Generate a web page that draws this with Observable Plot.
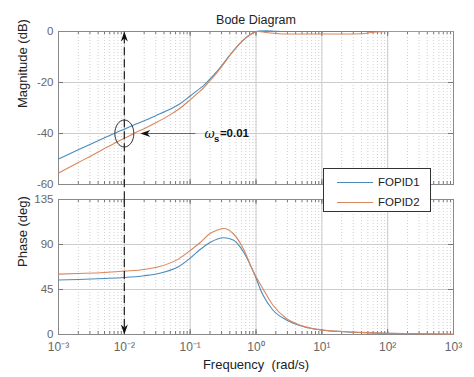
<!DOCTYPE html>
<html><head><meta charset="utf-8">
<script src="https://cdn.jsdelivr.net/npm/d3@7"></script>
<script src="https://cdn.jsdelivr.net/npm/@observablehq/plot@0.6"></script>
<style>
html,body{margin:0;padding:0;background:#fff;}
#wrap{position:relative;width:474px;height:377px;font-family:"Liberation Sans",Arial,sans-serif;}
#wrap svg{position:absolute;left:0;overflow:visible;}
</style></head>
<body><div id="wrap"></div>
<script>
const seriesNames = ["FOPID1", "FOPID2"];
const seriesColors = ["#4a8bbd", "#d9865c"];

const magFreq = [0.001,0.002,0.003,0.005,0.007,0.01,0.015,0.02,0.03,0.05,0.07,0.1,0.13,0.16,0.2,0.25,0.32,0.4,0.5,0.64,0.8,0.91,1.1,1.4,2,3,5,20,40,60,100,1000];
const magFOPID1 = [-50,-46.4,-44.3,-41.7,-40.0,-38.3,-36.3,-35.0,-33.0,-30.4,-28.3,-25.3,-23.0,-21.2,-18.6,-15.9,-12.5,-9.3,-6.3,-3.4,-1.4,-0.5,0.2,0.3,0.1,0,0,0,0,0,0,0];
const magFOPID2 = [-55.5,-51.4,-49.0,-45.9,-43.9,-41.9,-39.6,-38.1,-35.8,-32.6,-30.1,-26.8,-24.2,-22.1,-19.3,-16.4,-12.8,-9.4,-6.3,-3.4,-1.4,-0.5,0.0,-0.4,-0.8,-1.0,-1.0,-1.0,-0.9,-0.3,0,0];

const phFreq = [0.001,0.002,0.005,0.01,0.02,0.033,0.066,0.105,0.142,0.2,0.26,0.32,0.45,0.64,0.91,1.27,1.8,2.9,4.6,7.3,11.5,30,100,300,1000];
const phFOPID1 = [54.5,55,56,57,58.8,61,67.7,77.5,85,92,95.5,96.7,94.5,83,63,39.7,24.5,14.5,9,5.7,4,2.3,1.2,0.6,0.3];
const phFOPID2 = [60.4,61,62,63.4,65,67.7,75.4,85,92,101,104.5,106,101,86,63,46,29.5,16,9.5,5.9,4.1,2.4,1.2,0.6,0.3];

const xTicks = [1e-3,1e-2,1e-1,1,10,100,1000];
const xTickLabels = ["10⁻³","10⁻²","10⁻¹","10⁰","10¹","10²","10³"];
const magTicks = [0,-20,-40,-60];
const phTicks = [0,45,90,135];
const markerFreq = [0.01];
const markerMag = [-40];
const omegaArrow = {from: 0.12, to: 0.0175};

const font = '"Liberation Sans",Arial,sans-serif';
const minorTicks = d3.scaleLog().domain([1e-3,1e3]).ticks(100);
const toRows = (freq, a, b) => freq.flatMap((f,i)=>[{f, v:a[i], s:seriesNames[0]},{f, v:b[i], s:seriesNames[1]}]);
const magRows = toRows(magFreq, magFOPID1, magFOPID2);
const phRows = toRows(phFreq, phFOPID1, phFOPID2);

const headSymbol = {draw(ctx){ ctx.moveTo(0,0); ctx.lineTo(-3.5,10); ctx.lineTo(0,7); ctx.lineTo(3.5,10); ctx.closePath(); }};
const ellipseSymbol = {draw(ctx){ const rx=9.5, ry=13.5, k=0.5523;
  ctx.moveTo(rx,0);
  ctx.bezierCurveTo(rx,ry*k,rx*k,ry,0,ry);
  ctx.bezierCurveTo(-rx*k,ry,-rx,ry*k,-rx,0);
  ctx.bezierCurveTo(-rx,-ry*k,-rx*k,-ry,0,-ry);
  ctx.bezierCurveTo(rx*k,-ry,rx,-ry*k,rx,0); ctx.closePath(); }};

const W = 474, ML = 58, MR = 21;
const plotW = W - ML - MR;

function common(h){ // grid, frame, inner ticks
  return [
    Plot.gridX(minorTicks, {stroke:"#aaa", strokeOpacity:0.55, strokeDasharray:"1,2"}),
    Plot.gridX(xTicks, {stroke:"#ccc", strokeOpacity:1}),
    Plot.tickX(minorTicks, {x:d=>d, insetTop:h-3, stroke:"#777"}),
    Plot.tickX(minorTicks, {x:d=>d, insetBottom:h-3, stroke:"#777"}),
    Plot.tickX(xTicks, {x:d=>d, insetTop:h-5, stroke:"#777"}),
    Plot.tickX(xTicks, {x:d=>d, insetBottom:h-5, stroke:"#777"}),
  ];
}

const magH = 153;
const p1 = Plot.plot({
  width:W, height:190, marginTop:31, marginBottom:6, marginLeft:ML, marginRight:MR,
  style:{fontFamily:font, fontSize:"11.5px", color:"#666", background:"transparent", overflow:"visible"},
  x:{type:"log", domain:[1e-3,1e3], axis:null},
  y:{domain:[-60,0], axis:null},
  color:{domain:seriesNames, range:seriesColors},
  marks:[
    ...common(magH),
    Plot.gridY(magTicks, {stroke:"#ccc", strokeOpacity:1}),
    Plot.tickY(magTicks, {y:d=>d, insetRight:plotW-5, stroke:"#777"}),
    Plot.tickY(magTicks, {y:d=>d, insetLeft:plotW-5, stroke:"#777"}),
    Plot.axisY({ticks:magTicks, tickFormat:d=>String(d), tickSize:0, tickPadding:5, label:null, fill:"#666"}),
    Plot.frame({stroke:"#888"}),
    Plot.line(magRows, {x:"f", y:"v", stroke:"s", strokeWidth:1.1, curve:"monotone-x"}),
    Plot.ruleX(markerFreq, {x:d=>d, y1:-66, y2:0, stroke:"#222", strokeWidth:1.2, strokeDasharray:"8,4"}),
    Plot.dot(markerFreq, {x:d=>d, y:0, symbol:headSymbol, fill:"#111", stroke:null}),
    Plot.dot(markerFreq, {x:d=>d, y:markerMag[0], symbol:ellipseSymbol, fill:"none", stroke:"#333", strokeWidth:1}),
    Plot.link([omegaArrow], {x1:"from", x2:d=>d.to*1.05, y1:markerMag[0], y2:markerMag[0], stroke:"#666", strokeWidth:1}),
    Plot.dot([omegaArrow], {x:"to", y:markerMag[0], symbol:headSymbol, rotate:-90, fill:"#111", stroke:null}),
    Plot.text(["ω"], {x:omegaArrow.from, y:markerMag[0], dx:9, text:d=>d, textAnchor:"start", fontSize:12.5, fontStyle:"italic", fill:"#111", fontFamily:"DejaVu Serif"}),
    Plot.text(["s"], {x:omegaArrow.from, y:markerMag[0], dx:18.5, dy:5, text:d=>d, textAnchor:"start", fontSize:9.5, fontWeight:"bold", fill:"#111"}),
    Plot.text(["=0.01"], {x:omegaArrow.from, y:markerMag[0], dx:24.5, dy:0, text:d=>d, textAnchor:"start", fontSize:11.5, fontWeight:"bold", fill:"#111"}),
    Plot.text(["Magnitude (dB)"], {frameAnchor:"left", dx:-36, rotate:-90, text:d=>d, fontSize:13, fill:"#222"}),
    Plot.text(["Bode Diagram"], {frameAnchor:"top", dy:-16, text:d=>d, fontSize:12.5, fill:"#222"})
  ]
});
p1.style.top = "0px";

const phH = 135;
const p2 = Plot.plot({
  width:W, height:187, marginTop:9, marginBottom:43, marginLeft:ML, marginRight:MR,
  style:{fontFamily:font, fontSize:"11.5px", color:"#666", background:"transparent", overflow:"visible"},
  x:{type:"log", domain:[1e-3,1e3], axis:null},
  y:{domain:[0,135], axis:null},
  color:{domain:seriesNames, range:seriesColors},
  marks:[
    ...common(phH),
    Plot.gridY(phTicks, {stroke:"#ccc", strokeOpacity:1}),
    Plot.tickY(phTicks, {y:d=>d, insetRight:plotW-5, stroke:"#777"}),
    Plot.tickY(phTicks, {y:d=>d, insetLeft:plotW-5, stroke:"#777"}),
    Plot.axisY({ticks:phTicks, tickFormat:d=>String(d), tickSize:0, tickPadding:5, label:null, fill:"#666"}),
    Plot.text(xTicks, {x:d=>d, frameAnchor:"bottom", dy:16, text:d=>xTickLabels[xTicks.indexOf(d)], fontSize:12, fill:"#666"}),
    Plot.frame({stroke:"#888"}),
    Plot.line(phRows, {x:"f", y:"v", stroke:"s", strokeWidth:1.1, curve:"monotone-x"}),
    Plot.ruleX(markerFreq, {x:d=>d, y1:135, y2:3, stroke:"#222", strokeWidth:1.2, strokeDasharray:"8,4"}),
    Plot.dot(markerFreq, {x:d=>d, y:0, symbol:headSymbol, rotate:180, fill:"#111", stroke:null}),
    Plot.text(["Phase (deg)"], {frameAnchor:"left", dx:-36, rotate:-90, text:d=>d, fontSize:13, fill:"#222"}),
    Plot.text(["Frequency  (rad/s)"], {frameAnchor:"bottom", dy:34, text:d=>d, fontSize:13, fill:"#222"})
  ]
});
p2.style.top = "190px";

const wrap = document.getElementById("wrap");
wrap.appendChild(p1);
wrap.appendChild(p2);

// legend
const leg = document.createElement("div");
leg.style.cssText = "position:absolute;left:323px;top:168px;width:106px;height:42px;border:1px solid #333;background:#fff;font-size:11.5px;color:#222;";
seriesNames.forEach((n,i)=>{
  const row = document.createElement("div");
  row.style.cssText = `position:absolute;left:13px;top:${5+i*20}px;height:16px;display:flex;align-items:center;`;
  row.innerHTML = `<span style="display:inline-block;width:36px;border-top:1px solid ${seriesColors[i]};margin-right:5px"></span><span>${n}</span>`;
  leg.appendChild(row);
});
wrap.appendChild(leg);
</script>
</body></html>
